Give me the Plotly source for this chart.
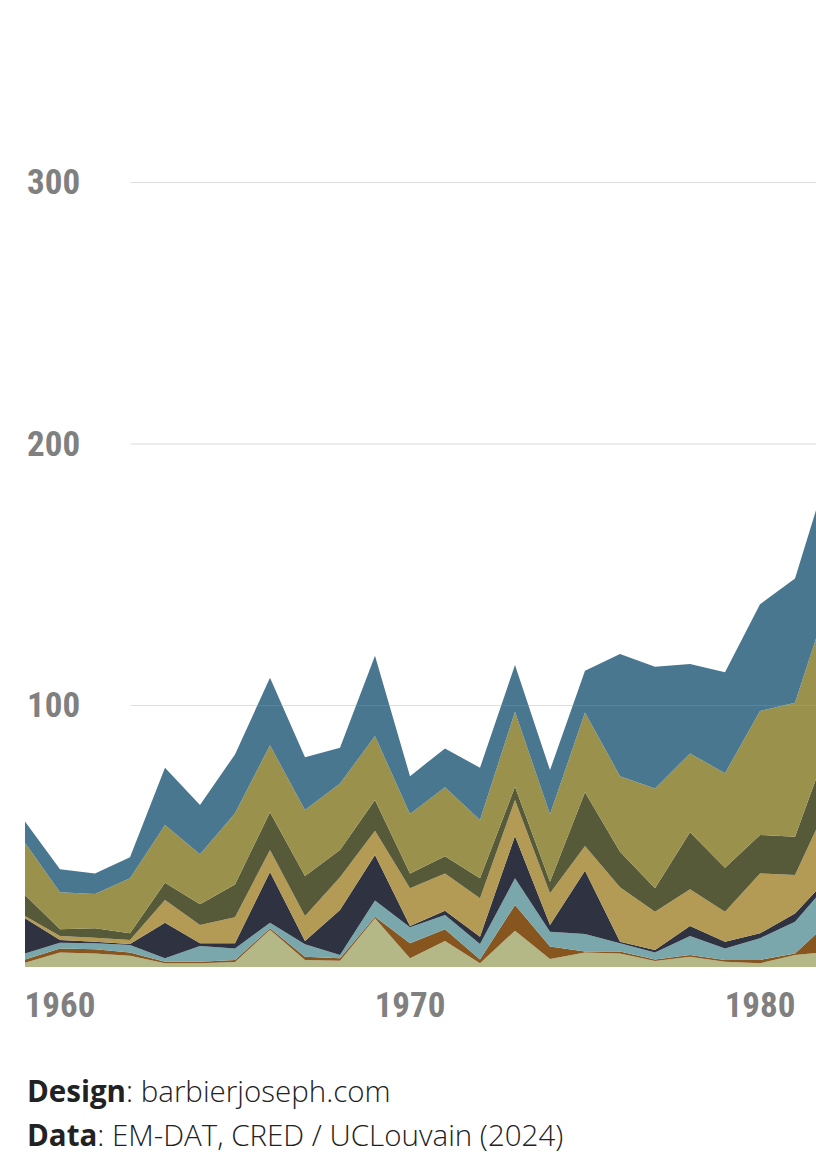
import plotly.graph_objects as go

years = list(range(1959, 1983))

# stacked layers, bottom to top
khaki = [1.6, 5.5, 5.2, 4.3, 1.4, 1.4, 1.9, 14.2, 2.7, 2.4, 18.6, 3.3, 9.9, 1.4, 13.9, 3.1, 5.5, 5.2, 2.3, 3.9, 2.0, 1.4, 4.6, 5.9]
brown = [1.3, 1.6, 1.6, 1.2, 0.6, 0.6, 0.8, 0.6, 1.2, 0.9, 0.6, 5.8, 4.5, 1.5, 9.8, 4.7, 0.4, 0.7, 0.6, 0.7, 0.7, 1.3, 0.6, 11.7]
teal = [2.3, 2.2, 2.3, 2.9, 1.3, 6.0, 4.4, 2.1, 4.8, 1.3, 6.2, 6.1, 5.5, 5.9, 10.2, 5.7, 6.7, 3.2, 2.6, 7.3, 4.4, 8.3, 12.1, 15.1]
navy = [13.4, 1.0, 0.6, 0.4, 13.6, 1.1, 2.0, 19.4, 1.2, 17.2, 17.4, 0.5, 1.6, 2.8, 16.2, 2.6, 24.2, 0.6, 1.0, 3.8, 2.6, 1.9, 3.2, 2.1]
tan = [0.9, 1.6, 1.5, 1.5, 8.7, 7.0, 9.9, 8.4, 9.6, 12.5, 9.3, 14.4, 14.3, 14.7, 13.8, 12.1, 9.5, 20.8, 14.6, 14.0, 11.4, 22.9, 14.7, 29.2]
dark_olive = [8.0, 2.5, 3.6, 2.6, 6.6, 7.9, 12.6, 14.5, 15.3, 10.4, 11.8, 5.7, 6.6, 7.6, 5.0, 4.4, 20.5, 13.6, 9.0, 21.8, 16.9, 14.7, 14.6, 22.6]
olive = [20.0, 14.2, 13.1, 21.0, 22.1, 19.1, 27.2, 25.6, 25.2, 25.5, 24.4, 22.7, 26.3, 22.3, 28.7, 25.8, 30.5, 28.9, 38.2, 30.2, 36.1, 47.4, 51.3, 55.4]
steel_blue = [8.1, 8.8, 7.9, 8.1, 21.9, 18.9, 22.5, 25.8, 20.2, 13.7, 30.7, 14.5, 14.9, 20.0, 17.9, 16.9, 16.0, 46.7, 46.5, 34.2, 38.6, 40.8, 47.5, 50.0]

layer_names = ["Layer 1", "Layer 2", "Layer 3", "Layer 4", "Layer 5", "Layer 6", "Layer 7", "Layer 8"]
layer_values = [khaki, brown, teal, navy, tan, dark_olive, olive, steel_blue]
layer_colors = ["#b4b786", "#87561f", "#7aa7ab", "#2f3240", "#b39a55", "#575a38", "#9a914c", "#49778f"]

y_ticks = [100, 200, 300]
y_labels = ["100", "200", "300"]
x_ticks = [1960, 1970, 1980]
x_labels = ["1960", "1970", "1980"]

TICK_FONT = dict(family="Roboto Condensed, Open Sans Condensed, Roboto, sans-serif",
                 size=35, color="#808080", weight="bold")

fig = go.Figure()
for name, vals, col in zip(layer_names, layer_values, layer_colors):
    fig.add_trace(go.Scatter(
        x=years, y=vals, name=name, stackgroup="one", mode="lines",
        line=dict(width=0, color=col), fillcolor=col, hoverinfo="skip",
    ))

shapes = []
for v in y_ticks:
    shapes.append(dict(type="line", xref="paper", yref="y", x0=0.16, x1=1, y0=v, y1=v,
                       line=dict(color="#dddddd", width=1), layer="below"))
    shapes.append(dict(type="line", xref="paper", yref="y", x0=0.16, x1=1, y0=v, y1=v,
                       line=dict(color="rgba(230,230,230,0.12)", width=1), layer="above"))

annos = []
# y-axis tick labels (drawn as text at the left, inside the plot)
for v, lab in zip(y_ticks, y_labels):
    annos.append(dict(xref="paper", yref="y", x=25 / 816, y=v, xanchor="left", yanchor="middle",
                      showarrow=False, text=lab, font=TICK_FONT))

annos += [
    dict(xref="paper", yref="paper", x=25 / 816, y=-0.1384, xanchor="left", yanchor="middle",
         showarrow=False, align="left",
         text="<b>Design</b>: barbierjoseph.com",
         font=dict(family="Open Sans, Noto Sans, sans-serif", size=29.5, color="#222222", weight=300)),
    dict(xref="paper", yref="paper", x=25 / 816, y=-0.1879, xanchor="left", yanchor="middle",
         showarrow=False, align="left",
         text="<b>Data</b>: EM-DAT, CRED / UCLouvain (2024)",
         font=dict(family="Open Sans, Noto Sans, sans-serif", size=29.5, color="#222222", weight=300)),
]

fig.update_layout(
    width=816, height=1176,
    margin=dict(l=0, r=0, t=78, b=209),
    paper_bgcolor="white", plot_bgcolor="white",
    showlegend=False,
    shapes=shapes,
    xaxis=dict(range=[1958.286, 1981.6], tickvals=x_ticks, ticktext=x_labels,
               showgrid=False, zeroline=False, showline=False, ticks="",
               tickfont=TICK_FONT, ticklabelstandoff=14, ticklabeloverflow="allow", fixedrange=True),
    yaxis=dict(range=[0, 340], tickvals=y_ticks, showgrid=False, zeroline=False,
               showline=False, ticks="", showticklabels=False, fixedrange=True),
    annotations=annos,
)

fig.write_html("out.html")
